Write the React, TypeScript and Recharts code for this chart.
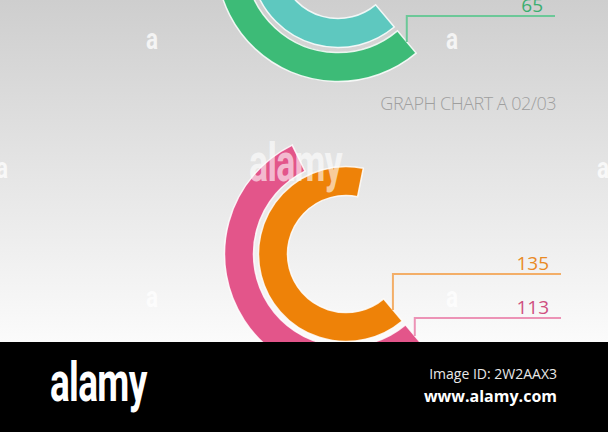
import { RadialBarChart, RadialBar, PolarAngleAxis, Sector } from 'recharts';

// top chart (mostly scrolled out of the frame)
const TOP_RINGS = ['teal', 'green'];
const TOP_VALUES = [58, 65];
const TOP_SHOW_LABEL = [false, true];
const TOP_MAX = 94;

// bottom chart
const BOTTOM_RINGS = ['orange', 'pink'];
const BOTTOM_VALUES = [135, 113];
const BOTTOM_SHOW_LABEL = [true, true];
const BOTTOM_MAX = 210;

const CHART_TITLE = 'GRAPH CHART A 02/03';

const TOP_COLORS = ['#5ec8bf', '#3dbb77'];
const TOP_LINE_COLORS = ['#8dd8d1', '#6cc898'];
const TOP_TEXT_COLORS = ['#48b9b0', '#3aae70'];
const TOP_RISE = [60, 26];

const BOTTOM_COLORS = ['#ee8208', '#e3558a'];
const BOTTOM_LINE_COLORS = ['#f3ae68', '#ec93b6'];
const BOTTOM_TEXT_COLORS = ['#e98a25', '#cf4f80'];
const BOTTOM_RISE = [36, 18];

const RAD = Math.PI / 180;
const FONT = '"Open Sans", "Noto Sans", sans-serif';
const LOGO_FONT = '"Roboto", "Liberation Sans", sans-serif';

function makeRingShape(
  rings: string[],
  values: number[],
  show: boolean[],
  colors: string[],
  lineColors: string[],
  textColors: string[],
  rise: number[],
  lineEnd: number,
) {
  return (props: any) => {
    const { cx, cy, innerRadius, outerRadius, startAngle, endAngle, payload } = props;
    const i = rings.indexOf(payload.ring);
    const a = Math.max(startAngle, endAngle);
    const midR = (innerRadius + outerRadius) / 2;
    const x = cx + midR * Math.cos(a * RAD);
    const y = cy - midR * Math.sin(a * RAD);
    const ly = y - rise[i];
    return (
      <g>
        <Sector
          cx={cx}
          cy={cy}
          innerRadius={innerRadius}
          outerRadius={outerRadius}
          startAngle={startAngle}
          endAngle={endAngle}
          fill={colors[i]}
          stroke="rgba(255,255,255,0.85)"
          strokeWidth={1.5}
        />
        {show[i] && (
          <g>
            <path
              d={`M${x},${y} V${ly} H${lineEnd}`}
              fill="none"
              stroke={lineColors[i]}
              strokeWidth={2}
            />
            <text
              x={lineEnd - 12}
              y={ly - 4}
              textAnchor="end"
              fill={textColors[i]}
              fontSize={19}
              fontFamily={FONT}
            >
              {values[i]}
            </text>
          </g>
        )}
      </g>
    );
  };
}

const topData = TOP_RINGS.map((ring, i) => ({ ring, value: TOP_VALUES[i] }));
const bottomData = BOTTOM_RINGS.map((ring, i) => ({ ring, value: BOTTOM_VALUES[i] }));

const watermarkA = [
  [146, 24],
  [446, 24],
  [-4, 153],
  [597, 153],
  [146, 282],
  [446, 282],
];

function Logo({ size, color, style }: { size: number; color: string; style: any }) {
  return (
    <div
      style={{
        position: 'absolute',
        fontFamily: LOGO_FONT,
        fontWeight: 700,
        fontSize: size,
        lineHeight: `${size}px`,
        letterSpacing: -1,
        color,
        transform: 'scaleX(0.66)',
        transformOrigin: 'left top',
        whiteSpace: 'nowrap',
        ...style,
      }}
    >
      alamy
    </div>
  );
}

export default function App() {
  return (
    <div
      style={{
        position: 'fixed',
        left: 0,
        top: 0,
        width: 608,
        height: 432,
        overflow: 'hidden',
        background: 'linear-gradient(to bottom, #cecece 0px, #e6e6e6 180px, #fbfbfb 342px)',
        fontFamily: FONT,
      }}
    >
      <div style={{ position: 'absolute', left: 0, top: -200 }}>
        <RadialBarChart
          width={608}
          height={300}
          cx={338}
          cy={160}
          data={topData}
          innerRadius={55.5}
          outerRadius={123.5}
          startAngle={-50}
          endAngle={-410}
          barSize={29}
          margin={{ top: 0, right: 0, bottom: 0, left: 0 }}
        >
          <PolarAngleAxis type="number" domain={[0, TOP_MAX]} tick={false} axisLine={false} />
          <RadialBar
            dataKey="value"
            isAnimationActive={false}
            shape={makeRingShape(
              TOP_RINGS,
              TOP_VALUES,
              TOP_SHOW_LABEL,
              TOP_COLORS,
              TOP_LINE_COLORS,
              TOP_TEXT_COLORS,
              TOP_RISE,
              555,
            )}
          />
        </RadialBarChart>
      </div>

      <div
        style={{
          position: 'absolute',
          right: 52,
          top: 91,
          fontSize: 18,
          color: '#9f9f9f',
          letterSpacing: -0.5,
          fontWeight: 300,
          whiteSpace: 'nowrap',
        }}
      >
        {CHART_TITLE}
      </div>

      <div style={{ position: 'absolute', left: 0, top: 100 }}>
        <RadialBarChart
          width={608}
          height={330}
          cx={346}
          cy={154}
          data={bottomData}
          innerRadius={55.5}
          outerRadius={123.5}
          startAngle={-50}
          endAngle={-410}
          barSize={29}
          margin={{ top: 0, right: 0, bottom: 0, left: 0 }}
        >
          <PolarAngleAxis type="number" domain={[0, BOTTOM_MAX]} tick={false} axisLine={false} />
          <RadialBar
            dataKey="value"
            isAnimationActive={false}
            shape={makeRingShape(
              BOTTOM_RINGS,
              BOTTOM_VALUES,
              BOTTOM_SHOW_LABEL,
              BOTTOM_COLORS,
              BOTTOM_LINE_COLORS,
              BOTTOM_TEXT_COLORS,
              BOTTOM_RISE,
              561,
            )}
          />
        </RadialBarChart>
      </div>

      {watermarkA.map(([x, y], i) => (
        <div
          key={i}
          style={{
            position: 'absolute',
            left: x,
            top: y,
            fontFamily: LOGO_FONT,
            fontWeight: 700,
            fontSize: 30,
            lineHeight: '30px',
            color: 'rgba(255,255,255,0.75)',
            transform: 'scaleX(0.75)',
            transformOrigin: 'left top',
          }}
        >
          a
        </div>
      ))}
      <Logo size={54} color="rgba(255,255,255,0.6)" style={{ left: 249, top: 136 }} />

      <div
        style={{
          position: 'absolute',
          left: 0,
          top: 342,
          width: 608,
          height: 90,
          background: '#000',
        }}
      >
        <Logo size={56} color="#fff" style={{ left: 50, top: 12 }} />
        <div
          style={{
            position: 'absolute',
            right: 51,
            top: 22,
            fontSize: 14,
            color: '#e8e8e8',
          }}
        >
          Image ID: 2W2AAX3
        </div>
        <div
          style={{
            position: 'absolute',
            right: 51,
            top: 43,
            fontSize: 16,
            fontWeight: 700,
            color: '#fff',
          }}
        >
          www.alamy.com
        </div>
      </div>
    </div>
  );
}
